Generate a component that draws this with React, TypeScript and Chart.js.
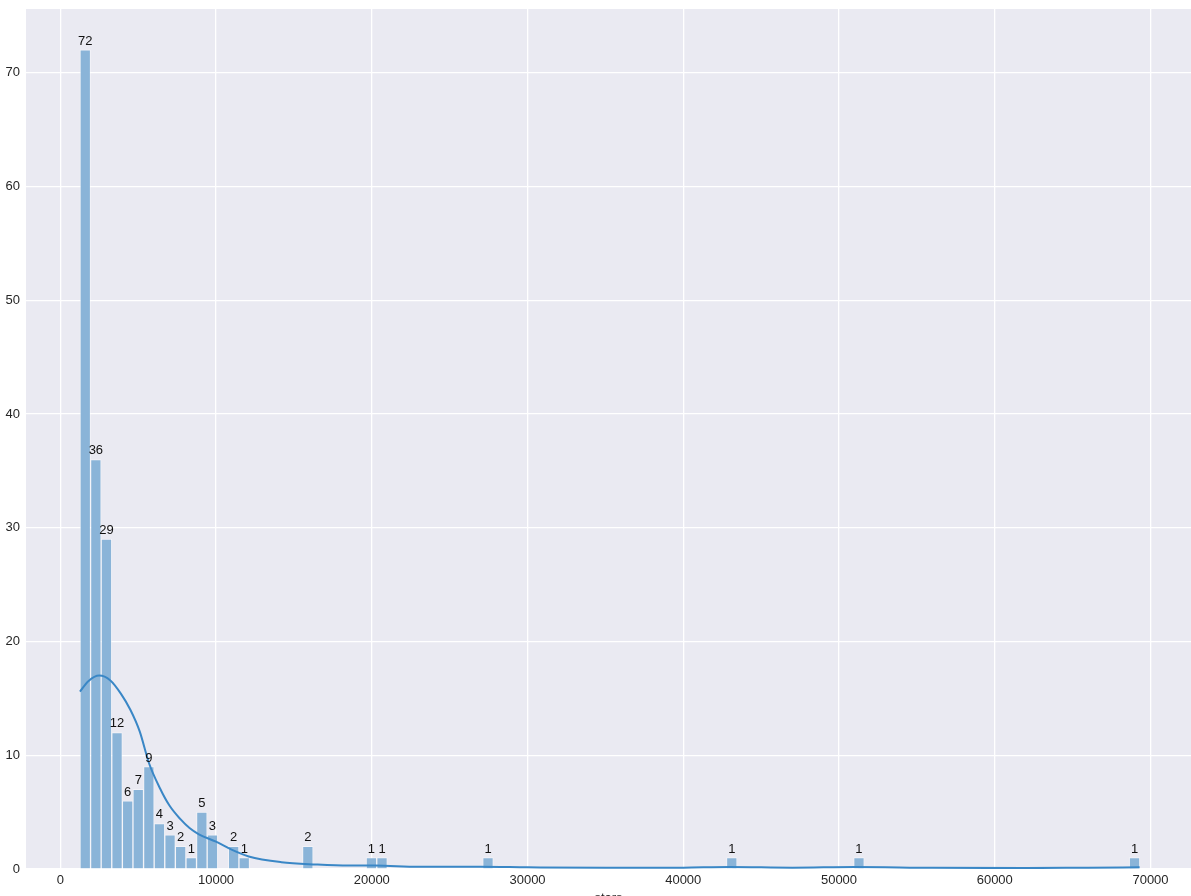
import { useEffect, useRef } from 'react'
import { Chart, registerables } from 'chart.js'

Chart.register(...registerables)

// histogram bins: 100 bins from the data minimum, only non-empty bins listed
const BIN_START = 1265
const BIN_WIDTH = 680.5
const binIndex = [0, 1, 2, 3, 4, 5, 6, 7, 8, 9, 10, 11, 12, 14, 15, 21, 27, 28, 38, 61, 73, 99]
const binCount = [72, 36, 29, 12, 6, 7, 9, 4, 3, 2, 1, 5, 3, 2, 1, 2, 1, 1, 1, 1, 1, 1]

// kde curve (scaled to counts)
const kdeX = [1265, 1800, 2500, 3200, 3900, 4500, 5100, 5700, 6400, 7000, 7700, 8300, 8900, 10000, 11000, 12100, 14200, 16400, 18500, 20200, 23000, 27000, 30000, 35000, 40000, 43000, 47000, 51000, 56000, 62000, 66000, 69300]
const kdeY = [15.6, 16.5, 17.0, 16.6, 15.4, 14.0, 12.1, 9.3, 7.1, 5.6, 4.4, 3.6, 3.05, 2.4, 1.7, 1.1, 0.6, 0.4, 0.3, 0.3, 0.2, 0.2, 0.15, 0.1, 0.12, 0.18, 0.12, 0.18, 0.1, 0.08, 0.12, 0.15]

const xTicks = [0, 10000, 20000, 30000, 40000, 50000, 60000, 70000]
const yTicks = [0, 10, 20, 30, 40, 50, 60, 70]

const C = {
  bg: '#EAEAF2',
  grid: '#FFFFFF',
  bar: '#8AB4D8',
  barEdge: 'rgba(255,255,255,0.45)',
  kde: '#3A87C6',
  tick: '#262626',
  label: '#111111',
}
const FONT = "'Liberation Sans', Arial, sans-serif"

const plotBg = {
  id: 'plotBg',
  beforeDraw(chart: any) {
    const { ctx, chartArea: a } = chart
    ctx.save()
    ctx.fillStyle = C.bg
    ctx.fillRect(a.left, a.top, a.right - a.left, a.bottom - a.top)
    ctx.restore()
  },
}

const barLabels = {
  id: 'barLabels',
  afterDatasetsDraw(chart: any) {
    const { ctx } = chart
    const meta = chart.getDatasetMeta(1)
    ctx.save()
    ctx.font = `13px ${FONT}`
    ctx.fillStyle = C.label
    ctx.textAlign = 'center'
    ctx.textBaseline = 'alphabetic'
    meta.data.forEach((el: any, i: number) => {
      ctx.fillText(String(binCount[i]), el.x, el.y - 5)
    })
    ctx.restore()
  },
}

export default function App() {
  const canvasRef = useRef<HTMLCanvasElement>(null)

  useEffect(() => {
    document.body.style.margin = '0'
    document.body.style.overflow = 'hidden'
    if (!canvasRef.current) return

    const chart = new Chart(canvasRef.current, {
      type: 'bar',
      data: {
        datasets: [
          {
            type: 'line',
            label: 'kde',
            data: kdeX.map((x, i) => ({ x, y: kdeY[i] })),
            borderColor: C.kde,
            borderWidth: 2,
            pointRadius: 0,
            cubicInterpolationMode: 'monotone',
            fill: false,
            order: 0,
          } as any,
          {
            type: 'bar',
            label: 'count',
            data: binIndex.map((b, i) => ({ x: BIN_START + (b + 0.5) * BIN_WIDTH, y: binCount[i] })),
            backgroundColor: C.bar,
            borderColor: C.barEdge,
            borderWidth: 1,
            borderSkipped: 'bottom',
            barPercentage: 1,
            categoryPercentage: 1,
            order: 1,
          } as any,
        ],
      },
      options: {
        animation: false,
        responsive: true,
        maintainAspectRatio: false,
        layout: { padding: { top: 9, left: 0, right: 0, bottom: 0 } },
        plugins: { legend: { display: false }, tooltip: { enabled: false } },
        scales: {
          x: {
            type: 'linear',
            offset: false,
            min: -2200,
            max: 72600,
            afterBuildTicks: (s: any) => { s.ticks = xTicks.map(value => ({ value })) },
            afterFit: (s: any) => { s.height = 41; s.paddingLeft = 0; s.paddingRight = 0 },
            grid: { color: C.grid, lineWidth: 1.3, drawTicks: false, offset: false },
            border: { display: false },
            ticks: {
              padding: 4,
              color: C.tick,
              font: { family: FONT, size: 13 },
              callback: (v: any) => String(v),
            },
            title: {
              display: true,
              text: 'stars',
              color: C.tick,
              font: { family: FONT, size: 13 },
              padding: { top: 0, bottom: 4 },
            },
          },
          y: {
            type: 'linear',
            min: 0,
            max: 75.6,
            afterBuildTicks: (s: any) => { s.ticks = yTicks.map(value => ({ value })) },
            afterFit: (s: any) => { s.width = 26; s.paddingTop = 0; s.paddingBottom = 0 },
            grid: { color: C.grid, lineWidth: 1.3, drawTicks: false },
            border: { display: false },
            ticks: {
              padding: 6,
              color: C.tick,
              font: { family: FONT, size: 13 },
              callback: (v: any) => String(v),
            },
          },
        },
      },
      plugins: [plotBg, barLabels],
    })

    return () => { chart.destroy() }
  }, [])

  return (
    <div style={{ width: 1191, height: 896, overflow: 'hidden', background: '#fff' }}>
      <div style={{ position: 'relative', width: 1191, height: 910 }}>
        <canvas ref={canvasRef} />
      </div>
    </div>
  )
}
